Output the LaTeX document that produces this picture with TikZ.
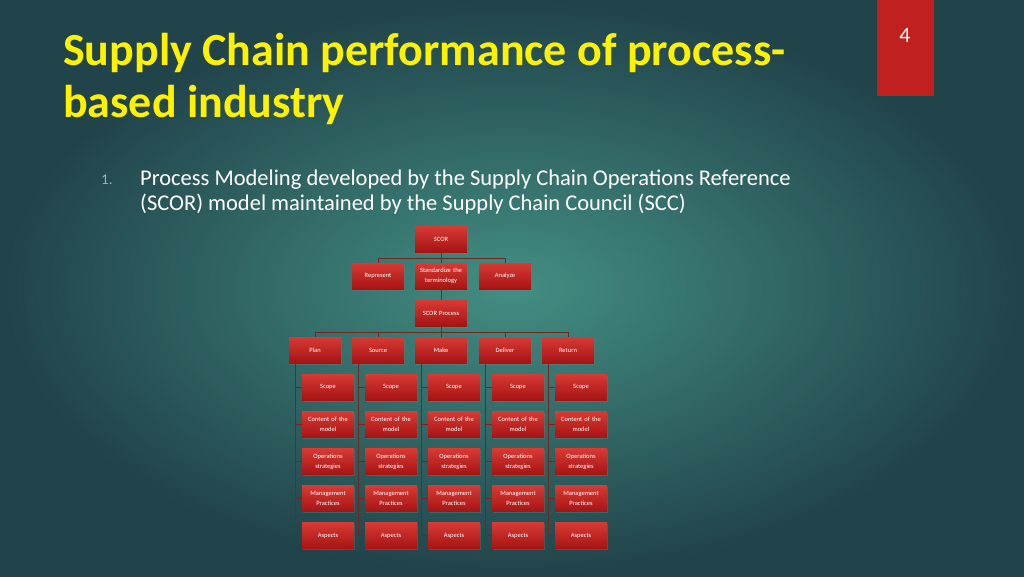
\documentclass[tikz,border=0pt]{standalone}
\usepackage{fontspec}
\setmainfont{Carlito}
\usetikzlibrary{shadows}
\definecolor{bgc}{HTML}{438E83}
\definecolor{bge}{HTML}{21434A}
\definecolor{bxt}{HTML}{D83A34}
\definecolor{bxb}{HTML}{A51414}
\definecolor{ln}{HTML}{6E2A1E}
\definecolor{tab}{HTML}{C0201E}
\tikzset{bx/.style={minimum width=52pt,minimum height=26pt,inner sep=1pt,top color=bxt,bottom color=bxb,draw=none,text=white,font=\fontsize{6.5}{10}\selectfont,align=center,text width=50pt,drop shadow={opacity=0.35,shadow xshift=1pt,shadow yshift=-1.5pt}},
 cn/.style={draw=ln,line width=1pt}}
\begin{document}
\begin{tikzpicture}[x=1pt,y=-1pt]
\useasboundingbox (0,0) rectangle (1024,576);
\shade[inner color=bgc,outer color=bge] (0,0) rectangle (1024,576);
\fill[tab] (877,0) rectangle (934,96);
\node[text=white,font=\fontsize{22}{24}\selectfont] (num) at (905,35) {4};
\node[anchor=north west,align=left,text=yellow,font=\bfseries\fontsize{46}{52}\selectfont,inner sep=0] (t) at (63,33) {Supply Chain performance of process-\\based industry};
\node[anchor=north west,text=bgc!60!white,font=\fontsize{15}{18}\selectfont,inner sep=0] (n1) at (101,175) {1.};
\node[anchor=north west,align=left,text=white,font=\fontsize{22.5}{25}\selectfont,inner sep=0] (p) at (140,170) {Process Modeling developed by the Supply Chain Operations Reference\\(SCOR) model maintained by the Supply Chain Council (SCC)};
% top
\node[bx] (scor) at (441,239) {SCOR};
\node[bx] (rep) at (378,276) {Represent};
\node[bx] (std) at (441,276) {Standardize the\\terminology};
\node[bx] (ana) at (505,276) {Analyze};
\node[bx] (proc) at (441,313) {SCOR Process};
\draw[cn] (scor.south) -- (441,258) -| (rep.north);
\draw[cn] (441,258) -| (ana.north);
\draw[cn] (scor.south) -- (std.north);
\draw[cn] (std.south) -- (proc.north);
\foreach \n/\x/\lab in {pl/315/Plan,so/378/Source,ma/441/Make,de/505/Deliver,re/568/Return}{
  \node[bx] (\n) at (\x,350) {\lab};
  \draw[cn] (proc.south) -- (441,332) -| (\n.north);
  \foreach \r/\y/\t in {1/387/Scope,2/424.5/Content of the\\model,3/461.5/Operations\\strategies,4/498.5/Management\\Practices,5/535.5/Aspects}{
    \node[bx] (\n\r) at (\x+13,\y) {\t};
    \draw[cn] ([xshift=-20pt]\n.south) |- (\n\r.west);
  }
}
\end{tikzpicture}
\end{document}
